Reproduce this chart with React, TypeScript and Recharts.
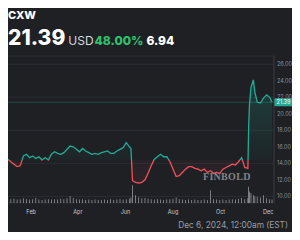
import {
  ComposedChart,
  Area,
  Bar,
  XAxis,
  YAxis,
  CartesianGrid,
  ReferenceLine,
} from "recharts";

// day of year 2024 for each sample
const days = [
  2, 6, 10, 14, 18, 22, 26, 30, 34, 38, 42, 46, 50, 54, 58, 62, 66, 70, 74, 78,
  82, 86, 90, 94, 98, 102, 106, 110, 114, 118, 122, 126, 130, 134, 138, 142,
  146, 150, 154, 158, 160, 162, 166, 170, 174, 178, 182, 186, 190, 194, 198,
  202, 206, 210, 214, 218, 222, 226, 230, 234, 238, 242, 246, 250, 254, 258,
  262, 266, 270, 274, 278, 282, 286, 290, 294, 298, 302, 306, 310, 311, 312,
  314, 317, 319, 322, 326, 330, 334, 338, 341,
];

const closes = [
  14.5, 14.2, 13.9, 13.6, 13.7, 14.9, 15.1, 14.7, 14.9, 14.6, 14.8, 14.4, 14.7,
  14.4, 15.1, 15.4, 15.2, 15.1, 15.3, 15.7, 16.1, 16.0, 15.7, 15.4, 15.8, 15.5,
  15.3, 15.1, 15.2, 15.1, 15.3, 15.4, 15.5, 15.2, 15.2, 15.5, 15.7, 15.9, 16.5,
  16.0, 15.8, 11.9, 11.7, 11.6, 11.7, 12.0, 12.8, 13.7, 14.5, 14.8, 15.1, 14.8,
  14.8, 14.2, 13.3, 12.4, 12.5, 12.9, 13.3, 13.6, 13.6, 13.4, 13.3, 13.1, 13.3,
  12.9, 13.1, 12.8, 12.9, 12.8, 13.3, 13.5, 13.7, 13.9, 13.8, 14.2, 14.7, 13.5,
  13.4, 18.4, 21.0, 23.2, 24.1, 22.6, 21.4, 21.3, 21.9, 22.3, 22.0, 21.39,
];

// volume, millions of shares
const volumes = [
  1.1, 1.0, 1.1, 0.9, 1.0, 1.2, 1.0, 0.9, 1.0, 1.3, 0.9, 0.8, 0.9, 1.0, 0.9,
  1.0, 0.9, 1.1, 1.0, 1.2, 1.8, 1.3, 1.0, 0.9, 1.0, 0.8, 0.9, 0.8, 0.9, 0.8,
  0.8, 0.9, 0.8, 1.0, 0.8, 0.9, 1.0, 0.9, 1.0, 1.1, 1.4, 4.6, 2.0, 1.5, 1.2,
  1.3, 1.1, 1.0, 0.9, 1.0, 0.9, 0.8, 0.9, 1.0, 1.1, 1.4, 1.0, 0.9, 0.8, 0.9,
  0.8, 0.9, 0.8, 0.8, 0.9, 0.8, 3.3, 1.0, 0.9, 0.8, 0.9, 0.8, 0.9, 1.0, 0.9,
  1.1, 1.3, 1.0, 1.2, 4.2, 3.0, 2.6, 2.0, 1.7, 1.6, 1.4, 2.0, 1.2, 1.0, 0.9,
];

const baseline = 14.45;
const priceTicks = [10, 12, 14, 16, 18, 20, 22, 24, 26];
const monthTicks = [32, 92, 153, 214, 275, 336];
const monthNames = ["Feb", "Apr", "Jun", "Aug", "Oct", "Dec"];

const rows = days.map((day, i) => ({
  day,
  close: closes[i],
  vol: volumes[i],
}));

const CH = 165;
const TOP = 6;
const PLOT_H = CH - TOP - 12;
const Y_MIN = 9.2;
const Y_MAX = 27;
// where the baseline sits inside the chart svg, as a fraction of its height
const split = (TOP + ((Y_MAX - baseline) / (Y_MAX - Y_MIN)) * PLOT_H) / CH;

const GREEN = "#22ab94";
const RED = "#f0515b";

function PriceTag(props: any) {
  const { viewBox } = props;
  const x = viewBox.x + viewBox.width;
  const y = viewBox.y;
  return (
    <g>
      <rect x={x} y={y - 4} width={19} height={8} fill={GREEN} rx={1} />
      <text
        x={x + 9.5}
        y={y + 2}
        fill="#ffffff"
        fontSize={5.5}
        textAnchor="middle"
      >
        21.39
      </text>
    </g>
  );
}

export default function App() {
  return (
    <div
      style={{
        position: "relative",
        width: 300,
        height: 240,
        margin: -8,
        background: "#1e2024",
        borderRadius: 9,
        overflow: "hidden",
        fontFamily: "Inter, 'Open Sans', sans-serif",
      }}
    >
      <div
        style={{
          position: "absolute",
          left: 8,
          top: 8,
          color: "#ffffff",
          fontWeight: 800,
          fontSize: 11,
        }}
      >
        CXW
      </div>
      <div
        style={{
          position: "absolute",
          left: 8,
          top: 25,
          display: "flex",
          alignItems: "baseline",
          whiteSpace: "nowrap",
        }}
      >
        <span style={{ color: "#fff", fontWeight: 800, fontSize: 21 }}>
          21.39
        </span>
        <span style={{ color: "#d7d9dd", fontSize: 12, marginLeft: 3 }}>
          USD
        </span>
        <span
          style={{ color: "#2ec36b", fontWeight: 800, fontSize: 12, marginLeft: 1 }}
        >
          48.00%
        </span>
        <span
          style={{ color: "#fff", fontWeight: 800, fontSize: 12, marginLeft: 3 }}
        >
          6.94
        </span>
      </div>

      <div style={{ position: "absolute", left: 0, top: 50 }}>
        <ComposedChart
          width={300}
          height={CH}
          data={rows}
          margin={{ top: TOP, right: 0, left: 7, bottom: 0 }}
        >
          <defs>
            <linearGradient
              id="lineGrad"
              gradientUnits="userSpaceOnUse"
              x1="0"
              y1="0"
              x2="0"
              y2={CH}
            >
              <stop offset={split} stopColor={GREEN} />
              <stop offset={split} stopColor={RED} />
            </linearGradient>
            <linearGradient
              id="fillGrad"
              gradientUnits="userSpaceOnUse"
              x1="0"
              y1="0"
              x2="0"
              y2={CH}
            >
              <stop offset={0.3} stopColor={GREEN} stopOpacity={0.3} />
              <stop offset={split} stopColor={GREEN} stopOpacity={0.06} />
              <stop offset={split} stopColor={RED} stopOpacity={0.06} />
              <stop offset={0.85} stopColor={RED} stopOpacity={0.18} />
            </linearGradient>
          </defs>
          <CartesianGrid
            yAxisId="p"
            vertical={false}
            stroke="#2a2d33"
            strokeWidth={1}
          />
          <XAxis
            dataKey="day"
            type="number"
            domain={[1, 343.5]}
            ticks={monthTicks}
            tickFormatter={(d: number) => monthNames[monthTicks.indexOf(d)]}
            axisLine={false}
            tickLine={false}
            height={12}
            tick={{ fill: "#c8cbd0", fontSize: 5.5 }}
            tickMargin={1}
          />
          <YAxis
            yAxisId="p"
            orientation="right"
            domain={[Y_MIN, Y_MAX]}
            ticks={priceTicks}
            tickFormatter={(v: number) => v.toFixed(2)}
            width={26}
            axisLine={{ stroke: "#3a3d44" }}
            tickLine={false}
            tickSize={0}
            tickMargin={3}
            tick={{ fill: "#8c9098", fontSize: 5.5, textAnchor: "start" }}
          />
          <YAxis yAxisId="v" hide domain={[0, 38]} />
          <Bar
            yAxisId="v"
            dataKey="vol"
            fill="#cfd2d7"
            fillOpacity={0.75}
            barSize={2.5}
            isAnimationActive={false}
          />
          <ReferenceLine
            yAxisId="p"
            y={21.39}
            stroke={GREEN}
            strokeOpacity={0.35}
            label={<PriceTag />}
          />
          <Area
            yAxisId="p"
            type="linear"
            dataKey="close"
            baseValue={baseline}
            stroke="url(#lineGrad)"
            strokeWidth={1.3}
            fill="url(#fillGrad)"
            dot={false}
            activeDot={false}
            isAnimationActive={false}
          />
        </ComposedChart>
      </div>

      <div
        style={{
          position: "absolute",
          left: 203,
          top: 171,
          fontFamily: "'Liberation Serif', 'DejaVu Serif', serif",
          fontWeight: 700,
          fontSize: 10,
          color: "#9c9ea3",
          opacity: 0.8,
          letterSpacing: 0.3,
        }}
      >
        FINBOLD
      </div>

      <div
        style={{
          position: "absolute",
          right: 12,
          top: 220,
          color: "#9a9ea6",
          fontSize: 8.3,
        }}
      >
        Dec 6, 2024, 12:00am (EST)
      </div>
    </div>
  );
}
